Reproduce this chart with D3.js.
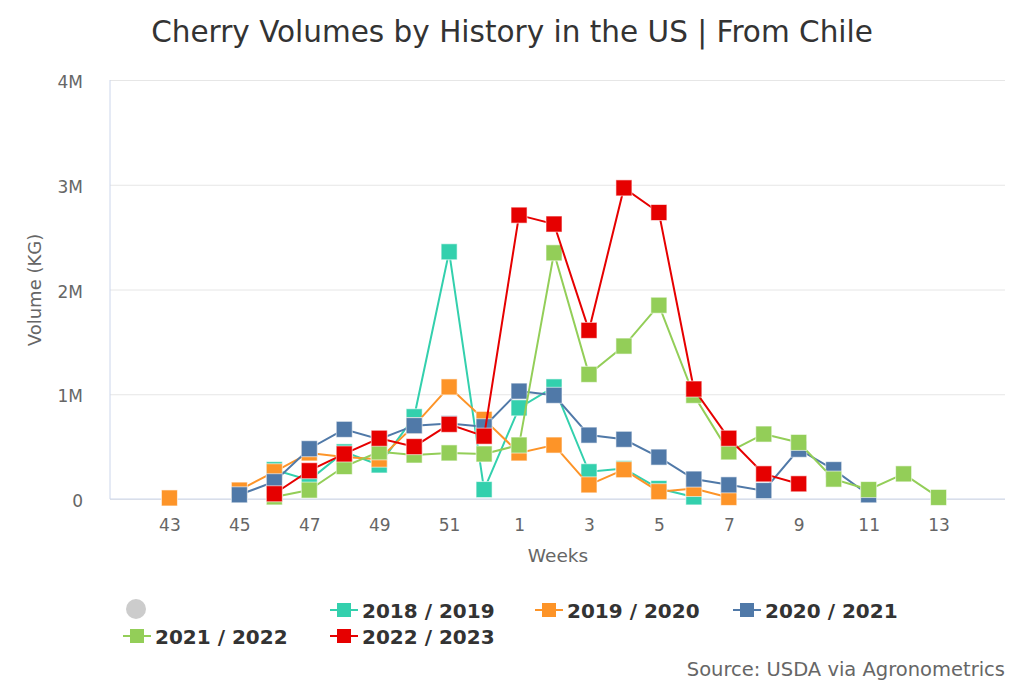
<!DOCTYPE html>
<html><head><meta charset="utf-8">
<script src="https://cdn.jsdelivr.net/npm/d3@7"></script>
<style>body{margin:0;background:#fff;} svg{display:block;font-family:"DejaVu Sans",sans-serif;}</style>
</head><body><svg id="c" width="1024" height="683"></svg>
<script>
const weeks = [43,44,45,46,47,48,49,50,51,52,1,2,3,4,5,6,7,8,9,10,11,12,13];
const tickWeeks = [43,45,47,49,51,1,3,5,7,9,11,13];
const yTicks = [0,1e6,2e6,3e6,4e6];
const yTickLabels = ["0","1M","2M","3M","4M"];
const seriesNames = ["2018 / 2019","2019 / 2020","2020 / 2021","2021 / 2022","2022 / 2023"];
const seriesColors = ["#33d0ad","#fd9428","#5079a8","#93ce58","#e60000"];
// values per week (null = no data), aligned with weeks
const s2018 = [null,null,null,280000,180000,450000,325000,785000,2360000,90000,870000,1070000,260000,290000,100000,20000,null,null,null,null,null,null,null];
const s2019 = [10000,null,85000,260000,440000,400000,380000,700000,1070000,760000,440000,515000,135000,280000,70000,100000,15000,null,null,null,null,null,null];
const s2020 = [null,null,40000,165000,480000,665000,570000,700000,720000,690000,1030000,990000,610000,570000,400000,190000,135000,80000,475000,280000,40000,null,null];
const s2021 = [null,null,null,20000,85000,310000,450000,420000,440000,430000,515000,2350000,1190000,1460000,1850000,990000,450000,620000,540000,190000,90000,240000,15000];
const s2022 = [null,null,null,50000,270000,430000,580000,500000,713000,600000,2710000,2625000,1610000,2970000,2735000,1050000,580000,240000,145000,null,null,null,null];
const seriesValues = [s2018,s2019,s2020,s2021,s2022];

(function(){
const svg = d3.select("#c");
const pL=110,pR=1005,pT=80,pB=499;
const x = d3.scaleLinear().domain([-1.7,23.9]).range([pL,pR]);
const y = d3.scaleLinear().domain([0,4e6]).range([pB,pT]);

svg.append("text").attr("x",512).attr("y",42).attr("text-anchor","middle")
  .attr("font-size",29.5).attr("fill","#333").text("Cherry Volumes by History in the US | From Chile");

const yAxis = d3.axisLeft(y).tickValues(yTicks).tickSize(-(pR-pL)).tickFormat((d,i)=>yTickLabels[i]);
const gy = svg.append("g").attr("transform",`translate(${pL},0)`).call(yAxis);
gy.select(".domain").remove();
gy.selectAll(".tick line").attr("stroke","#e6e6e6");
gy.selectAll(".tick text").attr("x",-27).attr("dy","0.45em").attr("font-size",17).attr("fill","#666").attr("font-family","DejaVu Sans");
svg.append("line").attr("x1",pL).attr("x2",pL).attr("y1",pT).attr("y2",pB).attr("stroke","#ccd6eb");

const xAxis = d3.axisBottom(x).tickValues(tickWeeks.map(w=>weeks.indexOf(w))).tickSize(0).tickFormat(i=>weeks[i]);
const gx = svg.append("g").attr("transform",`translate(0,${pB})`).call(xAxis);
gx.select(".domain").remove();
gx.selectAll(".tick text").attr("y",20).attr("font-size",17).attr("fill","#666").attr("font-family","DejaVu Sans");
svg.append("line").attr("x1",pL).attr("x2",pR).attr("y1",pB).attr("y2",pB).attr("stroke","#ccd6eb");

svg.append("text").attr("x",558).attr("y",562).attr("text-anchor","middle").attr("font-size",18.5).attr("fill","#666").text("Weeks");
svg.append("text").attr("transform","translate(41,290) rotate(-90)").attr("text-anchor","middle").attr("font-size",18).attr("fill","#666").text("Volume (KG)");

const line = d3.line().defined(d=>d!=null).x((d,i)=>x(i)).y(d=>y(d));
seriesValues.forEach((vals,k)=>{
  const g = svg.append("g");
  g.append("path").attr("d",line(vals)).attr("fill","none").attr("stroke",seriesColors[k]).attr("stroke-width",2);
  g.selectAll("rect").data(vals.map((v,i)=>({v,i})).filter(d=>d.v!=null)).join("rect")
    .attr("x",d=>x(d.i)-8).attr("y",d=>y(d.v)-8).attr("width",16).attr("height",16)
    .attr("fill",seriesColors[k]).attr("stroke","#fff").attr("stroke-width",1).attr("stroke-opacity",0.6);
});

svg.append("circle").attr("cx",136).attr("cy",609).attr("r",10).attr("fill","#ccc");
const legPos = [[330,610],[535,610],[733,610],[123,636],[330,636]];
seriesNames.forEach((n,k)=>{
  const [lx,ly]=legPos[k];
  const g = svg.append("g").attr("transform",`translate(${lx},${ly})`);
  g.append("line").attr("x1",0).attr("x2",28).attr("y1",0).attr("y2",0).attr("stroke",seriesColors[k]).attr("stroke-width",2);
  g.append("rect").attr("x",7).attr("y",-7).attr("width",14).attr("height",14).attr("fill",seriesColors[k]);
  g.append("text").attr("x",32).attr("y",7.5).attr("font-size",20).attr("font-weight","bold").attr("fill","#333").text(n);
});
svg.append("text").attr("x",1005).attr("y",676).attr("text-anchor","end").attr("font-size",19.5).attr("fill","#666").text("Source: USDA via Agronometrics");
})();
</script></body></html>
